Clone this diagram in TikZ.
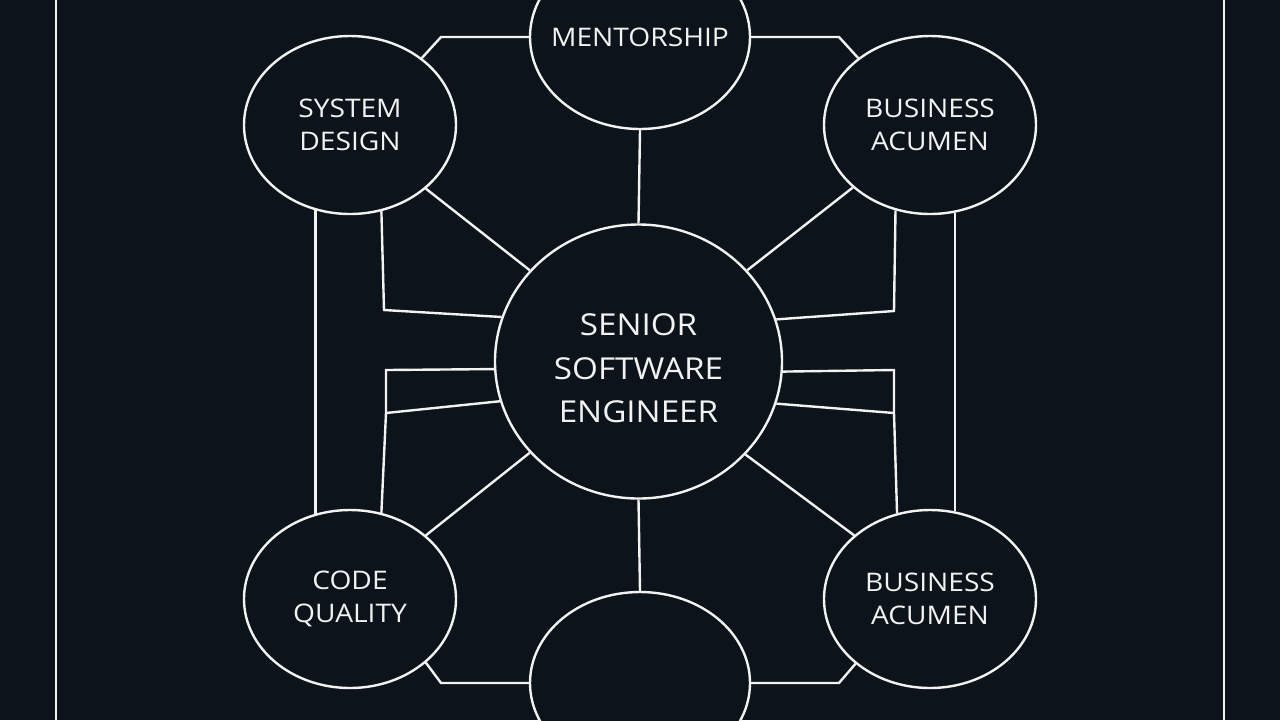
\documentclass[tikz,border=0pt]{standalone}
\usepackage{fontspec}
\setmainfont{Open Sans}[FakeStretch=1.1]
\usepackage{xcolor}
\usepackage{tikz}
\usetikzlibrary{shapes}
\definecolor{bgdark}{HTML}{0D131A}
\definecolor{inkwhite}{HTML}{F2F2F2}

\begin{document}
\begin{tikzpicture}[x=0.5pt, y=-0.5pt]
\tikzset{skill/.style={ellipse, draw=inkwhite, line width=1.2pt, fill=bgdark, text=inkwhite, inner sep=0pt, minimum width=106pt, minimum height=89pt, align=center, font=\fontsize{12.8}{16.5}\selectfont}}
\tikzset{core/.style={skill, minimum width=143.5pt, minimum height=137pt, text height=61.5pt, font=\fontsize{15.1}{21.75}\selectfont}}
\tikzset{link/.style={draw=inkwhite, line width=1.2pt}}
    \fill[bgdark] (0,0) rectangle (1280,720);
    \clip (0,0) rectangle (1280,720);

    \coordinate (FLt) at (56,0);
    \coordinate (FLb) at (56,720);
    \coordinate (FRt) at (1224,0);
    \coordinate (FRb) at (1224,720);

    \draw[link] (FLt) -- (FLb);
    \draw[link] (FRt) -- (FRb);
% % % % % % % % % % % % % % % % % % %
    \node[core] (SSE) at (638.5,361.5) {SENIOR\\SOFTWARE\\ENGINEER};

    \node[skill, inner xsep=-12pt, minimum width=110pt, minimum height=92pt] (MEN) at (640,37) {MENTORSHIP};
    \node[skill, minimum width=110pt, minimum height=91pt] (BOT) at (640,683) {};

    \node[skill] (SD) at (350,125) {SYSTEM\\DESIGN};
    \node[skill] (BAt) at (930,125) {BUSINESS\\ACUMEN};
    \node[skill] (CQ) at (350,599) {CODE\\QUALITY};
    \node[skill] (BAb) at (930,599) {BUSINESS\\ACUMEN};
% % % % % % % % % % % % % % % % % % %
    \coordinate (SDa) at (441,37);
    \coordinate (SDb) at (384,310);
    \coordinate (CQa) at (386,413);
    \coordinate (CQb) at (386,370);
    \coordinate (CQc) at (441,683);

    \coordinate (BAa) at (839,37);
    \coordinate (BAc) at (894,311);
    \coordinate (BAd) at (894,370);
    \coordinate (BAe) at (894,413);
    \coordinate (BAf) at (839,683);

    \draw[link] (SD.43) -- (SDa) -- (MEN.west);
    \draw[link] (MEN.east) -- (BAa) -- (BAt.137);
    \draw[link] (MEN.south) -- (SSE.north);
    \draw[link] (SSE.south) -- (BOT.north);

    \draw[link] (SD.320) -- (SSE.140);
    \draw[link] (SD.290) -- (SDb) -- (SSE.162.5);
    \draw[link] (SD.248) -- (CQ.112);

    \draw[link] (CQ.70) -- (CQa) -- (CQb) -- (SSE.183.4);
    \draw[link] (CQa) -- (SSE.196.8);
    \draw[link] (CQ.40.6) -- (SSE.220.4);
    \draw[link] (CQ.320) -- (CQc) -- (BOT.west);

    \draw[link] (BAt.219) -- (SSE.40.4);
    \draw[link] (BAt.248.7) -- (BAc) -- (SSE.17.3);
    \draw[link] (BAt.286) -- (BAb.74);

    \draw[link] (BAb.111) -- (BAe) -- (BAd) -- (SSE.356.6);
    \draw[link] (BAe) -- (SSE.343.3);
    \draw[link] (SSE.319.6) -- (BAb.140);
    \draw[link] (BAb.221.7) -- (BAf) -- (BOT.east);
\end{tikzpicture}
\end{document}
